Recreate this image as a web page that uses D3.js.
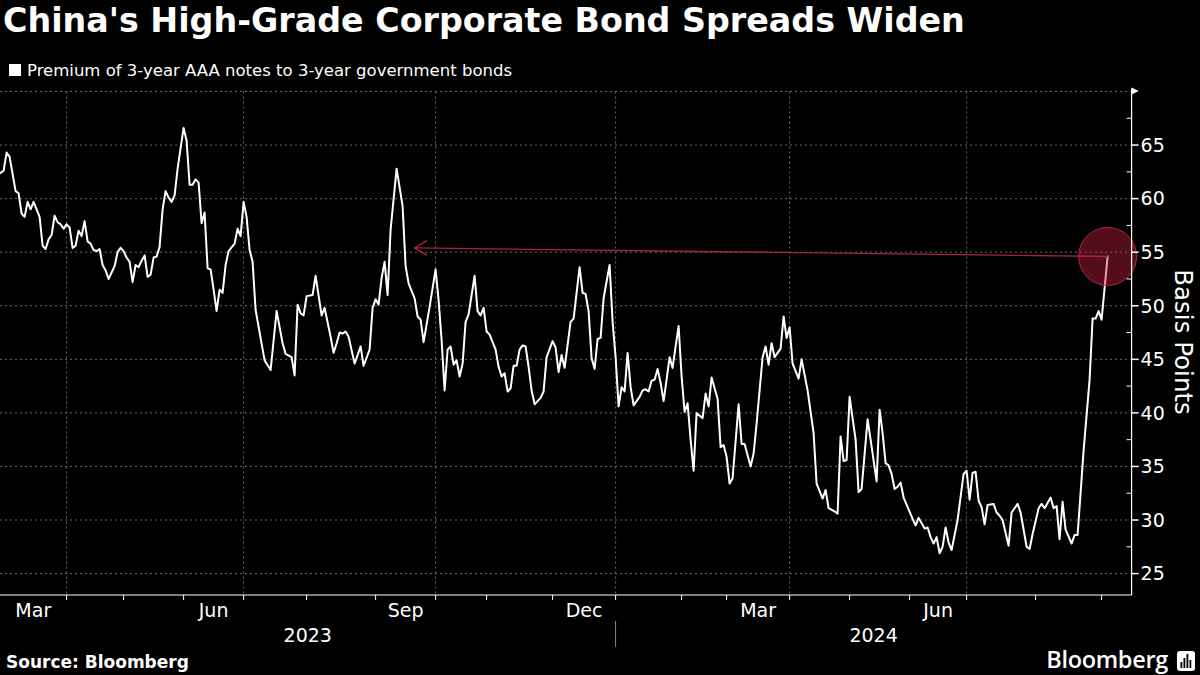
<!DOCTYPE html>
<html><head><meta charset="utf-8">
<script src="https://cdn.jsdelivr.net/npm/d3@7"></script>
<style>html,body{margin:0;padding:0;background:#000;}svg{display:block;}</style>
</head><body>
<svg id="chart" width="1200" height="675"></svg>
<script>
// ---------- text ----------
const title = "China's High-Grade Corporate Bond Spreads Widen";
const subtitle = "Premium of 3-year AAA notes to 3-year government bonds";
const sourceText = "Source: Bloomberg";
const yAxisTitle = "Basis Points";
const brand = "Bloomberg";

// ---------- calendar (trading sessions per month, from Mar 2023) ----------
const monthNames = ["Mar","Apr","May","Jun","Jul","Aug","Sep","Oct","Nov","Dec","Jan","Feb","Mar","Apr","May","Jun","Jul","Aug","Sep"];
const monthYears = [2023,2023,2023,2023,2023,2023,2023,2023,2023,2023,2024,2024,2024,2024,2024,2024,2024,2024,2024];
const sessionsPerMonth = [23,19,20,20,21,23,20,17,22,21,22,15,21,20,20,19,23,22,19];
const labeledMonths = ["Mar","Jun","Sep","Dec"];
const gridMonths = ["Apr","Jul","Oct","Jan"];
const years = [2023, 2024];
const yTicks = [25,30,35,40,45,50,55,60,65];
const yMinorTicks = [27.5,32.5,37.5,42.5,47.5,52.5,57.5,62.5,67.5];
const yGrid = [25,30,35,40,45,50,55,60,65,70];

// ---------- series: trading session number (since 1 Mar 2023) and spread in bp ----------
const sessions = [1,2,3,4,6,7,8,9,10,11,12,13,14,15,16,17,18,19,20,21,22,23,24,25,26,27,28,29,30,31,32,33,34,35,36,37,38,39,40,41,42,43,44,45,46,47,48,49,50,51,52,53,54,55,56,57,58,59,60,62,63,64,65,66,67,68,69,70,71,72,73,74,75,76,77,79,80,81,82,83,84,85,86,89,91,93,95,96,98,99,100,101,102,103,105,106,108,109,111,112,113,114,115,116,117,119,121,122,124,125,126,127,128,129,130,131,133,135,136,137,139,140,141,142,144,146,147,148,149,150,151,152,153,154,155,156,157,159,160,161,162,163,164,166,167,168,169,170,171,172,173,174,175,176,177,178,179,181,182,183,185,186,187,188,189,191,192,194,195,196,197,198,199,200,201,202,204,205,206,207,208,209,210,211,212,214,215,216,217,218,219,220,221,222,223,224,225,226,227,228,229,230,231,232,233,235,236,237,238,240,241,242,243,244,245,247,248,249,251,252,253,255,256,257,258,259,260,261,262,263,264,265,267,268,270,272,273,275,276,277,279,280,281,282,283,284,286,287,288,290,291,293,294,295,296,297,298,299,300,301,302,305,306,307,309,310,311,312,313,314,315,316,317,318,320,322,323,324,325,326,327,328,329,330,332,333,334,335,337,338,340,341,343,344,345,347,348,349,351,352,353,354,355,356,358,359,360,362,364,365,366,367,368,370];
const spreads = [62.4,62.6,64.3,63.9,60.7,60.5,58.6,58.3,59.7,59.0,59.7,59.0,58.3,55.6,55.3,56.2,56.6,58.4,57.8,57.6,57.2,57.6,57.3,55.4,55.6,57.0,56.5,57.9,56.0,55.8,55.2,55.1,55.3,53.8,53.3,52.5,53.1,53.7,55.0,55.4,55.1,54.5,54.1,52.2,53.8,53.6,54.2,54.7,52.7,52.9,54.5,54.6,55.5,59.0,60.7,60.1,59.7,60.3,62.8,66.6,65.4,61.3,61.3,61.8,61.5,57.7,58.7,53.5,53.4,51.5,49.5,51.5,51.2,53.8,55.1,55.8,57.2,56.5,59.7,58.3,55.2,54.1,49.6,44.9,44.0,49.5,46.5,45.5,45.2,43.5,50.1,49.3,49.1,50.9,51.0,52.8,49.1,49.8,47.1,45.6,46.5,47.5,47.4,47.6,47.1,44.6,46.2,44.4,45.9,49.8,50.6,50.1,52.6,54.1,51.0,57.1,62.8,59.3,53.7,52.1,50.7,49.0,48.7,46.6,49.9,53.4,50.5,46.8,42.1,45.9,46.2,44.5,44.9,43.4,44.6,48.5,49.2,52.8,49.5,49.1,49.8,47.6,47.3,45.9,44.3,43.4,43.7,42.0,42.3,44.4,44.4,45.9,46.3,46.2,44.3,42.1,40.8,41.4,42.0,45.2,46.7,46.1,43.8,45.4,44.2,48.5,48.8,53.6,51.2,51.1,49.5,45.1,44.1,46.9,47.0,50.7,53.8,48.5,45.2,40.6,42.4,42.0,45.6,42.4,40.7,41.5,42.1,42.2,42.0,43.0,43.1,44.1,42.8,41.1,43.1,45.2,44.2,46.2,48.1,43.4,40.1,40.9,37.5,34.6,40.0,39.5,41.8,40.6,43.3,41.3,36.8,37.0,35.9,33.4,33.9,40.8,37.1,37.1,35.0,36.2,39.0,45.2,46.2,44.5,46.5,45.2,45.6,46.0,49.0,47.0,48.0,44.6,43.2,45.0,42.1,38.1,33.4,32.0,32.8,31.1,30.8,30.6,37.8,35.5,35.6,41.5,37.5,32.6,32.9,39.4,37.5,33.6,40.3,38.1,35.3,35.1,34.3,32.9,33.1,33.5,32.1,30.1,29.5,30.2,29.2,29.3,28.4,27.8,28.4,26.9,27.5,29.3,27.9,27.2,30.0,34.3,34.6,31.9,34.4,34.5,31.8,31.2,29.6,31.4,31.5,30.7,30.4,30.0,27.6,30.7,31.5,30.7,27.5,27.3,28.7,31.1,31.5,31.1,32.1,31.1,31.3,28.2,31.7,29.1,27.8,28.6,28.6,36.5,43.1,48.8,48.8,49.5,48.7,54.6];

// annotation: arrow from latest reading back to the Sep 2023 level
const arrowTarget = {session: 139, value: 55.4};

// ---------- build ----------
const data = sessions.map((s, i) => ({s, v: spreads[i]}));
const svg = d3.select("#chart");
svg.append("rect").attr("width",1200).attr("height",675).attr("fill","#000");

const plotLeft = 0, plotRight = 1131.6, plotTop = 91.5, plotBottom = 595;
const x = d3.scaleLinear().domain([0.8, 378]).range([plotLeft, plotRight]);
const y = d3.scaleLinear().domain([23, 70]).range([plotBottom, plotTop]);

// month boundaries
let acc = 0;
const monthInfo = monthNames.map((m, i) => {
  const o = {name: m, year: monthYears[i], start: acc, end: acc + sessionsPerMonth[i]};
  acc += sessionsPerMonth[i];
  return o;
});
const [d0, d1] = x.domain();
const visibleStarts = monthInfo.filter(m => m.start > d0 && m.start <= d1);

const gridColor = "#6a6a6a";
const g = svg.append("g");

// horizontal grid
g.selectAll("line.hg").data(yGrid).join("line")
  .attr("x1", plotLeft).attr("x2", plotRight)
  .attr("y1", d => y(d)).attr("y2", d => y(d))
  .attr("stroke", gridColor).attr("stroke-width", 1).attr("stroke-dasharray", "2,3");

// vertical grid at quarter starts
g.selectAll("line.vg").data(visibleStarts.filter(m => gridMonths.includes(m.name))).join("line")
  .attr("x1", d => x(d.start)).attr("x2", d => x(d.start))
  .attr("y1", plotTop).attr("y2", plotBottom)
  .attr("stroke", gridColor).attr("stroke-width", 1).attr("stroke-dasharray", "2,3");

// series line
const line = d3.line().x(d => x(d.s)).y(d => y(d.v)).curve(d3.curveLinear);
svg.append("path").datum(data)
  .attr("d", line).attr("fill", "none").attr("stroke", "#fff")
  .attr("stroke-width", 2).attr("stroke-linejoin", "round").attr("stroke-linecap", "round");

// annotation arrow + circle
const last = data[data.length - 1];
const ax = x(arrowTarget.session), ay = y(arrowTarget.value);
const annColor = "#a8243c";
svg.append("line").attr("x1", x(last.s)).attr("y1", y(last.v)).attr("x2", ax).attr("y2", ay)
  .attr("stroke", annColor).attr("stroke-width", 1.3);
svg.append("path")
  .attr("d", `M${ax + 12.5},${ay - 7.5} L${ax},${ay} L${ax + 12.5},${ay + 7.5}`)
  .attr("fill", "none").attr("stroke", annColor).attr("stroke-width", 1.3);
svg.append("circle").attr("cx", x(last.s)).attr("cy", y(last.v)).attr("r", 29)
  .attr("fill", "#c8203f").attr("fill-opacity", 0.42)
  .attr("stroke", "#b82640").attr("stroke-width", 1);

// x axis
svg.append("line").attr("x1", plotLeft).attr("x2", plotRight).attr("y1", plotBottom).attr("y2", plotBottom)
  .attr("stroke", "#fff").attr("stroke-width", 1.2);
svg.selectAll("line.xt").data(visibleStarts).join("line")
  .attr("x1", d => x(d.start)).attr("x2", d => x(d.start))
  .attr("y1", plotBottom).attr("y2", plotBottom + 5)
  .attr("stroke", "#fff").attr("stroke-width", 1);

const axisFont = "DejaVu Sans";
svg.selectAll("text.month").data(monthInfo.filter(m => labeledMonths.includes(m.name) && m.end <= d1 && m.end > d0)).join("text")
  .attr("x", d => x((Math.max(d.start, d0) + d.end) / 2)).attr("y", 617)
  .attr("text-anchor", "middle").attr("fill", "#fff")
  .attr("font-family", axisFont).attr("font-size", 19).text(d => d.name);

const yearInfo = years.map(yr => {
  const ms = monthInfo.filter(m => m.year === yr);
  const s = Math.max(ms[0].start, d0), e = Math.min(ms[ms.length - 1].end, d1);
  return {yr, s, e, start: ms[0].start};
});
svg.selectAll("text.year").data(yearInfo).join("text")
  .attr("x", d => x((d.s + d.e) / 2)).attr("y", 642)
  .attr("text-anchor", "middle").attr("fill", "#fff")
  .attr("font-family", axisFont).attr("font-size", 19).text(d => d.yr);
svg.selectAll("line.ysep").data(yearInfo.filter(d => d.start > d0)).join("line")
  .attr("x1", d => x(d.start)).attr("x2", d => x(d.start))
  .attr("y1", 621).attr("y2", 647).attr("stroke", "#8a8a8a").attr("stroke-width", 1);

// y axis (right)
svg.append("line").attr("x1", plotRight).attr("x2", plotRight).attr("y1", plotTop - 3).attr("y2", plotBottom)
  .attr("stroke", "#fff").attr("stroke-width", 1.2);
svg.append("path")
  .attr("d", `M${plotRight},${plotTop - 4} L${plotRight + 7},${plotTop - 0.5} L${plotRight},${plotTop + 3} Z`)
  .attr("fill", "#fff");
svg.selectAll("line.ymaj").data(yTicks).join("line")
  .attr("x1", plotRight).attr("x2", plotRight + 7)
  .attr("y1", d => y(d)).attr("y2", d => y(d))
  .attr("stroke", "#fff").attr("stroke-width", 1.5);
svg.selectAll("line.ymin").data(yMinorTicks).join("line")
  .attr("x1", plotRight - 5).attr("x2", plotRight)
  .attr("y1", d => y(d)).attr("y2", d => y(d))
  .attr("stroke", "#fff").attr("stroke-width", 1);
svg.selectAll("text.ytl").data(yTicks).join("text")
  .attr("x", plotRight + 9).attr("y", d => y(d)).attr("dy", "0.36em")
  .attr("fill", "#fff").attr("font-family", axisFont).attr("font-size", 19)
  .text(d => d);
svg.append("text")
  .attr("transform", `translate(1175,342) rotate(90)`)
  .attr("text-anchor", "middle").attr("fill", "#fff")
  .attr("font-family", axisFont).attr("font-size", 24.5).text(yAxisTitle);

// title / subtitle
svg.append("text").attr("x", 3).attr("y", 32)
  .attr("fill", "#fff").attr("font-family", "DejaVu Sans").attr("font-weight", "bold")
  .attr("font-size", 33.3).text(title);
svg.append("rect").attr("x", 9).attr("y", 64).attr("width", 12).attr("height", 12).attr("fill", "#fff");
svg.append("text").attr("x", 27).attr("y", 76)
  .attr("fill", "#fff").attr("font-family", "DejaVu Sans").attr("font-size", 16.5).text(subtitle);

// footer
svg.append("text").attr("x", 6).attr("y", 668)
  .attr("fill", "#fff").attr("font-family", "DejaVu Sans").attr("font-weight", "bold")
  .attr("font-size", 17).text(sourceText);
svg.append("text").attr("x", 1168).attr("y", 668).attr("text-anchor", "end")
  .attr("fill", "#fff").attr("font-family", "Open Sans").attr("font-weight", 600)
  .attr("font-size", 23.5).attr("letter-spacing", -0.3).text(brand);
const icon = svg.append("g").attr("transform", "translate(1177,651)");
icon.append("rect").attr("width", 18).attr("height", 20).attr("rx", 3).attr("fill", "#fff");
const iconBars = [6, 10, 14, 8];
icon.selectAll("rect.b").data(iconBars).join("rect")
  .attr("x", (d, i) => 3.5 + i * 3).attr("y", d => 17 - d).attr("width", 1.8).attr("height", d => d).attr("fill", "#000");
</script>
</body></html>
